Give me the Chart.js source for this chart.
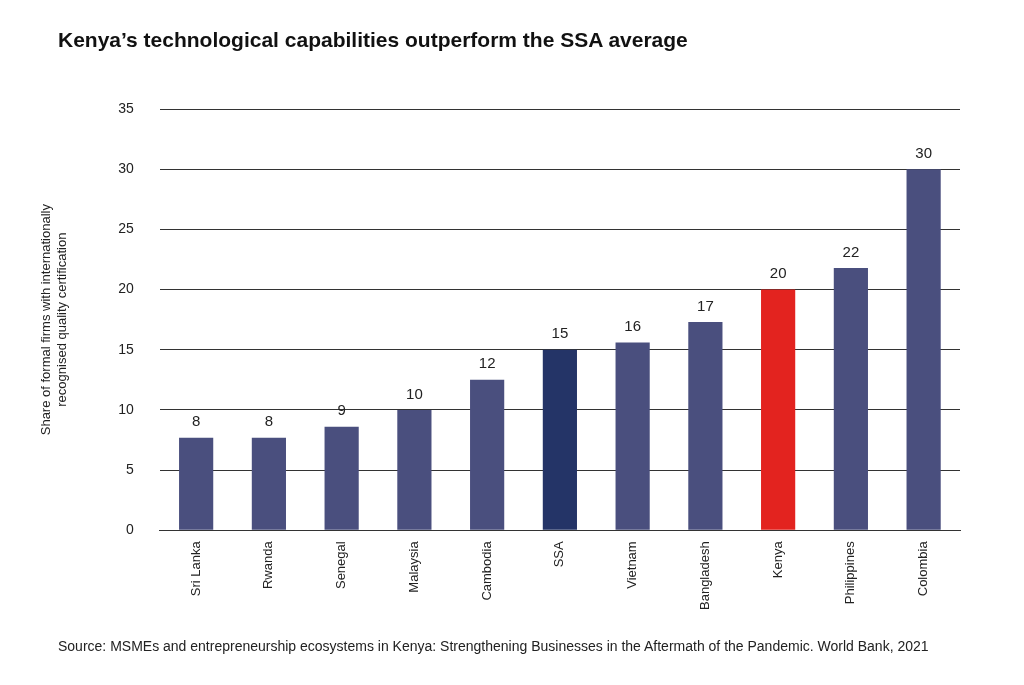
<!DOCTYPE html>
<html><head><meta charset="utf-8">
<script src="https://cdn.jsdelivr.net/npm/chart.js@4"></script>
<style>
html,body{margin:0;padding:0;background:#fff;font-family:"Helvetica","Liberation Sans",Arial,sans-serif;}
#wrap{position:relative;width:1024px;height:685px;}
#title{position:absolute;left:58px;top:28px;font-size:21px;font-weight:bold;color:#111;}
#src{position:absolute;left:58px;top:638px;font-size:14px;color:#222;}
#c{position:absolute;left:0;top:0;}
</style></head><body>
<div id="wrap">
<canvas id="c" width="1024" height="685"></canvas>
<div id="title">Kenya’s technological capabilities outperform the SSA average</div>
<div id="src">Source: MSMEs and entrepreneurship ecosystems in Kenya: Strengthening Businesses in the Aftermath of the Pandemic. World Bank, 2021</div>
</div>
<script>
const categories=["Sri Lanka","Rwanda","Senegal","Malaysia","Cambodia","SSA","Vietnam","Bangladesh","Kenya","Philippines","Colombia"];
const values=[7.7,7.7,8.6,10,12.5,15,15.6,17.3,20,21.8,30];
const valueLabels=["8","8","9","10","12","15","16","17","20","22","30"];
const barColors=categories.map(c=>c==="SSA"?"#243467":c==="Kenya"?"#e3231f":"#4a4f7e");
const yTicks=[0,5,10,15,20,25,30,35];
const labelPlugin={id:"vl",afterDatasetsDraw(ch){const ctx=ch.ctx;const m=ch.getDatasetMeta(0);ctx.save();ctx.font="15px 'Liberation Sans', Arial";ctx.fillStyle="#222";ctx.textAlign="center";ctx.textBaseline="bottom";m.data.forEach((b,i)=>ctx.fillText(valueLabels[i],b.x,b.y-8));ctx.restore();}};
new Chart(document.getElementById("c"),{type:"bar",
data:{labels:categories,datasets:[{data:values,backgroundColor:barColors,barPercentage:0.47,categoryPercentage:1}]},
options:{responsive:false,animation:false,devicePixelRatio:1,
layout:{padding:{left:35,right:64,top:109,bottom:72}},
plugins:{legend:{display:false},tooltip:{enabled:false},title:{display:false}},
scales:{
x:{grid:{display:false},border:{color:"#333"},ticks:{minRotation:90,maxRotation:90,color:"#222",font:{size:13,family:"'Liberation Sans', Arial"}}},
y:{min:0,max:35,afterBuildTicks:a=>{a.ticks=yTicks.map(v=>({value:v}));},border:{display:false},grid:{color:"#333",lineWidth:1,drawTicks:false},
ticks:{padding:26,color:"#222",font:{size:14,family:"'Liberation Sans', Arial"}},
title:{display:true,text:["Share of formal firms with internationally","recognised quality certification"],color:"#222",font:{size:13,family:"'Liberation Sans', Arial"},padding:{bottom:22}}}}},
plugins:[labelPlugin]});
</script>
</body></html>
